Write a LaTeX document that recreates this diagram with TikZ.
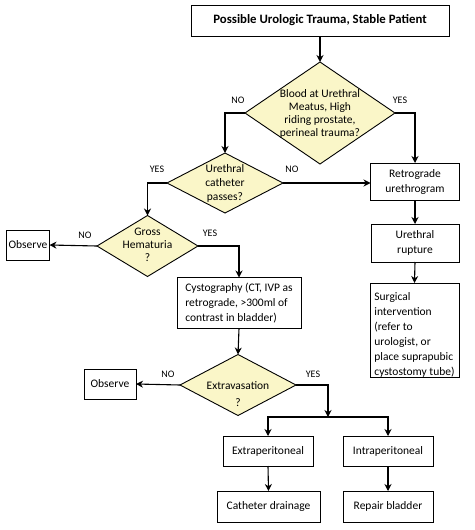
\documentclass[tikz,border=0pt]{standalone}
\usepackage{fontspec}
\setmainfont{Carlito}
\usetikzlibrary{shapes.geometric,arrows.meta}
\definecolor{dy}{RGB}{250,246,200}
\begin{document}
\begin{tikzpicture}[x=1pt,y=-1pt,
  box/.style={draw, line width=0.9pt, inner sep=0, outer sep=0, align=center, font=\fontsize{11.5}{15}\selectfont},
  dia/.style={draw, diamond, fill=dy, line width=0.9pt, inner sep=0, outer sep=0},
  dtext/.style={align=center, font=\fontsize{11.5}{14}\selectfont},
  lab/.style={font=\fontsize{10}{10}\selectfont},
  arr/.style={line width=1.1pt, -{Stealth[length=7pt,width=7pt]}},
  ln/.style={line width=1.1pt}]
\useasboundingbox (0,0) rectangle (474,530);
% boxes
\node[box, minimum width=258, minimum height=31, font=\fontsize{12.8}{15}\selectfont\bfseries] (top) at (320,20.5) {Possible Urologic Trauma, Stable Patient};
\node[box, minimum width=89, minimum height=37] (retro) at (415,181.5) {Retrograde\\urethrogram};
\node[box, minimum width=88, minimum height=38] (ur) at (415,243) {Urethral\\rupture};
\node[box, minimum width=89, minimum height=94, align=left] (surg) at (414.5,330) {\rule{0pt}{17pt}Surgical\\intervention\\(refer to\\urologist, or\\place suprapubic\\cystostomy tube)};
\node[box, minimum width=43, minimum height=30] (obs1) at (28,245) {Observe};
\node[box, minimum width=124, minimum height=51, align=left] (cys) at (239,303) {Cystography (CT, IVP as\\retrograde, {>}300ml of\\contrast in bladder)};
\node[box, minimum width=52, minimum height=30] (obs2) at (110,384) {Observe};
\node[box, minimum width=90, minimum height=30] (extra) at (268,451) {Extraperitoneal};
\node[box, minimum width=90, minimum height=30] (intra) at (388,451) {Intraperitoneal};
\node[box, minimum width=103, minimum height=31] (cath) at (268.5,506.5) {Catheter drainage};
\node[box, minimum width=90, minimum height=31] (rep) at (388,506.5) {Repair bladder};
% diamonds
\node[dia, minimum width=150, minimum height=102] (d1) at (320,113) {};
\node[dtext, font=\fontsize{11.5}{12.8}\selectfont] at (320,114) {Blood at Urethral\\Meatus, High\\riding prostate,\\perineal trauma?};
\node[dia, minimum width=116, minimum height=60] (d2) at (225,183) {};
\node[dtext] at (225,183) {Urethral\\catheter\\passes?};
\node[dia, minimum width=101, minimum height=61] (d3) at (147.5,246) {};
\node[dtext, font=\fontsize{11.5}{13}\selectfont] at (147.5,245) {Gross\\Hematuria\\?};
\node[dia, minimum width=116, minimum height=61] (d4) at (238,385) {};
\node[dtext, font=\fontsize{11.5}{16.5}\selectfont] at (238,394) {Extravasation\\?};
% labels
\node[lab] at (238,100) {NO};
\node[lab] at (400,100) {YES};
\node[lab] at (157,169) {YES};
\node[lab] at (292,169) {NO};
\node[lab] at (85,235) {NO};
\node[lab] at (210,233) {YES};
\node[lab] at (168,374) {NO};
\node[lab] at (313,374) {YES};
% connectors
\coordinate (j) at (328,417);
\draw[arr] (top.south) -- (d1.north);
\draw[arr] (d1.west) -| (d2.north);
\draw[arr] (d1.east) -| (retro.north);
\draw[arr] (d2.east) -- (d2.east -| retro.west);
\draw[arr] (d2.west) -| (d3.north);
\draw[arr] (d3.west) -- (obs1.east);
\draw[arr] (d3.east) -| (cys.north);
\draw[arr] (retro.south) -- (ur.north);
\draw[arr] (ur.south) -- (surg.north);
\draw[arr] (cys.south) -- (d4.north);
\draw[arr] (d4.west) -- (obs2.east);
\draw[arr] (d4.east) -| (j);
\draw[arr] (j) -| (extra.north);
\draw[arr] (j) -| (intra.north);
\draw[arr] (extra.south) -- (cath.north);
\draw[arr] (intra.south) -- (rep.north);
\end{tikzpicture}
\end{document}
